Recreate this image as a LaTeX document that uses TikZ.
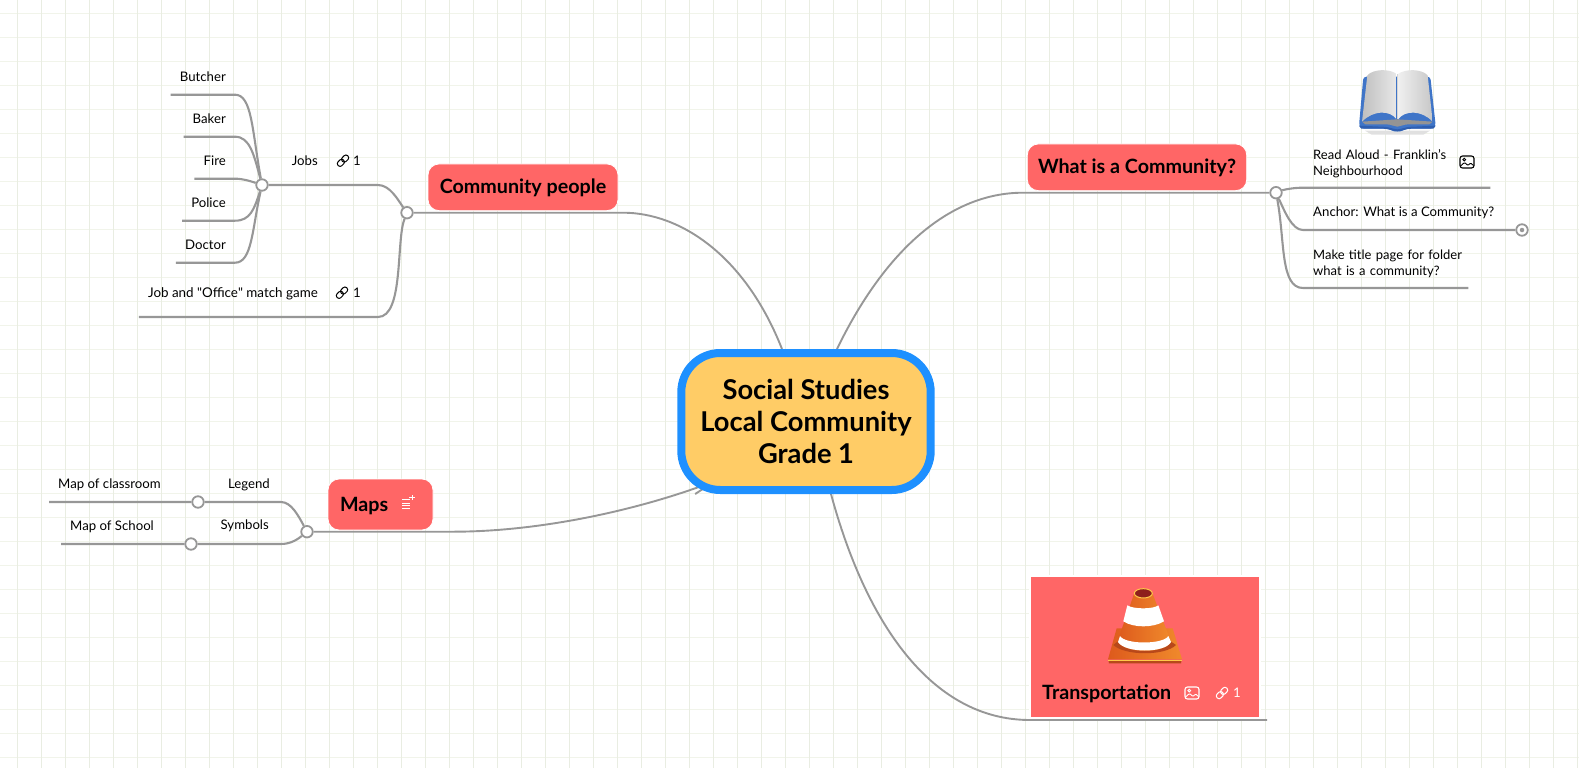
\documentclass[tikz,border=0pt]{standalone}
\usepackage{fontspec}
\setmainfont{Lato}
\newfontfamily\plainquote{Lato}
\usetikzlibrary{backgrounds}
\definecolor{gridv}{HTML}{E9EDE2}
\definecolor{gridh}{HTML}{F1F4EA}
\definecolor{branch}{HTML}{979797}
\definecolor{rootblue}{HTML}{1E90FF}
\definecolor{rootfill}{HTML}{FFCC66}
\definecolor{topicred}{HTML}{FF6666}
\definecolor{bookblue}{HTML}{3F75C8}
\definecolor{bookdark}{HTML}{2F5FB0}
\definecolor{coneA}{HTML}{DD5A1C}
\definecolor{coneB}{HTML}{F08A2C}
\definecolor{coneC}{HTML}{B8481A}
\definecolor{conerim}{HTML}{FFC84A}
\definecolor{conehole}{HTML}{8E1F1C}
\tikzset{
  root/.style={draw=rootblue,line width=8pt,fill=rootfill,rounded corners=39pt,minimum width=249.4pt,
    minimum height=137pt,align=center,font=\fontsize{27.3}{32.3}\selectfont\bfseries},
  topic/.style={draw=white,line width=.8pt,fill=topicred,rounded corners=11pt,minimum height=46.7pt,
    text height=15.2pt,text depth=3.8pt,font=\fontsize{19.7}{23}\selectfont\bfseries},
  leaf/.style={inner xsep=9pt,inner ysep=9pt,text height=9pt,text depth=4pt,
    font=\fontsize{13.2}{16}\selectfont},
  note/.style={inner xsep=5pt,inner ysep=10pt,align=left,font=\fontsize{13}{16}\selectfont},
  count/.style={inner sep=0pt,font=\fontsize{13.2}{16}\selectfont},
  hub/.style={circle,draw=branch,line width=1.8pt,fill=white,minimum size=11.5pt,inner sep=0pt},
  twig/.style={draw=branch,line width=2.1pt},
  limb/.style={draw=branch,line width=1.9pt,line join=round},
  pics/linkicon/.style={code={
    \draw[line width=1pt,rotate=45,rounded corners=2.4pt] (-6.8,-2.7) rectangle (.8,2.7);
    \draw[line width=1pt,rotate=45,rounded corners=2.4pt] (-.8,-2.7) rectangle (6.8,2.7);
  }},
  pics/imageicon/.style={code={
    \draw[line width=1.1pt,rounded corners=2.5pt] (-7,-6) rectangle (7,6);
    \draw[line width=.9pt] (-2.8,-2.4) circle (1.4);
    \draw[line width=.9pt,rounded corners=1pt] (-6.5,4) -- (-2.5,.5) -- (1,3.5) -- (3.5,1) -- (6.5,3.5);
  }},
  pics/noteicon/.style={code={
    \foreach \y in {-3.5,0,2.5,5} \draw[line width=1pt] (-6,\y) -- (2,\y);
    \draw[line width=1pt] (1,-5.5) -- (7,-5.5) (4,-8) -- (4,-3);
  }},
}
\begin{document}
\begin{tikzpicture}[x=1pt,y=-1pt]
  \useasboundingbox (0,0) rectangle (1579,768);
  \begin{scope}[on background layer]
    \foreach \y in {0,...,31} \draw[gridh,line width=1pt] (0,13.3+24*\y) -- (1579,13.3+24*\y);
    \foreach \x in {0,...,65} \draw[gridv,line width=1pt] (17.3+24*\x,0) -- (17.3+24*\x,768);
  \end{scope}

  % centre and main topics
  \node[root] (center) at (806,421.5) {Social Studies\\Local Community\\Grade 1};
  \node[topic,minimum width=190pt] (people) at (523,187.3) {Community people};
  \node[topic,minimum width=219.4pt] (what) at (1137,167.3) {What is a Community?};
  \node[topic,minimum width=105pt,minimum height=51pt,text width=81pt,inner xsep=12pt,text height=16.5pt,text depth=2.5pt] (maps) at (380.5,504.5) {Maps};
  \node[draw=white,line width=1.5pt,fill=topicred,minimum width=230pt,minimum height=142pt] (transport) at (1145,647) {};
  \node[anchor=base west,inner sep=0pt,font=\fontsize{19.7}{23}\selectfont\bfseries] (transportlabel) at (1042,699) {Transportation};
  \node[count,white] (transportcount) at (1237,693) {1};
  \coordinate (transportend) at (1267,720);
  \pic[white] at (408,503) {noteicon};
  \pic[white] at (1192,693) {imageicon};
  \pic[white] at (1222,693) {linkicon};

  % hubs
  \node[hub] (peoplehub) at (407,212.7) {};
  \node[hub] (jobshub) at (262,185) {};
  \node[hub] (whathub) at (1276,192.7) {};
  \node[hub] (mapshub) at (307,531.7) {};
  \node[hub] (legendhub) at (198,502) {};
  \node[hub] (symbolshub) at (191,544) {};
  \node[hub] (anchorend) at (1522,230) {};
  \node[circle,fill=branch,minimum size=4.5pt,inner sep=0pt] (anchordot) at (anchorend) {};

  % jobs side
  \node[leaf,anchor=south east] (butcher) at (235,94.7) {Butcher};
  \node[leaf,anchor=south east] (baker) at (235,136.7) {Baker};
  \node[leaf,anchor=south east] (fire) at (235,178.7) {Fire};
  \node[leaf,anchor=south east] (police) at (235,220.7) {Police};
  \node[leaf,anchor=south east] (doctor) at (235,262.7) {Doctor};
  \node[count,anchor=base east] (jobs) at (318,165.5) {Jobs};
  \node[count] (jobscount) at (357,160.7) {1};
  \pic at (343,160.7) {linkicon};
  \node[leaf,anchor=south east,inner ysep=15.3pt,font=\fontsize{13.4}{16}\selectfont] (jobgame) at (327,317) {Job and {\plainquote"}Office{\plainquote"} match game};
  \node[count] (gamecount) at (357,292.7) {1};
  \pic at (342,292.7) {linkicon};

  % maps side
  \node[count,anchor=base east] (legend) at (270,488.5) {Legend};
  \node[count,anchor=base east] (symbols) at (269,529.8) {Symbols};
  \node[leaf,anchor=south west] (classroom) at (49,502) {Map of classroom};
  \node[leaf,anchor=south west] (school) at (61,544) {Map of School};

  % community side
  \node[note,anchor=south west,text width=172pt] (readaloud) at (1308,187.7) {Read Aloud - Franklin's\\Neighbourhood};
  \pic at (1467,162) {imageicon};
  \node[count,anchor=base west] (anchortext) at (1313,216.5) {Anchor: What is a Community?};
  \node[note,anchor=south west,text width=150pt] (titlepage) at (1308,288) {Make title page for folder\\what is a community?};

  % book
  \begin{scope}[shift={(1340,60)},x=.3333pt,y=-.3333pt]
    \fill[black!12] (75,212) -- (270,212) -- (250,224) -- (95,224) -- cycle;
    \fill[bookblue,rounded corners=3pt] (70,50) -- (57,197) -- (64,206) -- (125,206)
      .. controls (150,206) and (158,214) .. (172,214) .. controls (186,214) and (194,206) .. (219,206)
      -- (280,206) -- (287,197) -- (271,50) -- cycle;
    \fill[bookdark] (57,197) -- (64,206) -- (125,206) .. controls (150,206) and (158,214) .. (172,214)
      .. controls (186,214) and (194,206) .. (219,206) -- (280,206) -- (287,197) -- (219,200)
      .. controls (194,200) and (186,208) .. (172,208) .. controls (158,208) and (150,200) .. (125,200) -- cycle;
    \fill[black!42] (66,185) -- (172,178) -- (278,185) -- (268,193) -- (205,193)
      .. controls (190,193) and (182,200) .. (172,200) .. controls (162,200) and (154,193) .. (139,193) -- (76,193) -- cycle;
    \shade[left color=black!25,middle color=black!5,right color=black!9] (82,46) .. controls (100,26) and (150,26) .. (170,42)
      -- (170,178) .. controls (150,150) and (100,150) .. (66,185) -- cycle;
    \shade[left color=black!6,middle color=black!4,right color=black!22] (174,42) .. controls (195,26) and (245,26) .. (263,46)
      -- (278,185) .. controls (245,150) and (195,150) .. (174,178) -- cycle;
    \fill[black!16] (170,42) rectangle (174,178);
  \end{scope}

  % cone
  \begin{scope}[shift={(1090,580)},x=.3333pt,y=-.3333pt]
    \fill[coneC] (55,240) -- (275,240) -- (273,250) -- (57,250) -- cycle;
    \shade[left color=coneA,right color=coneB] (80,145) -- (248,145) -- (276,238) -- (54,238) -- cycle;
    \fill[coneC] (70,195) .. controls (105,228) and (225,228) .. (258,195) -- (243,185) -- (82,185) -- cycle;
    \draw[conerim,line width=1.2pt] (55,241) -- (275,241);
    \shade[left color=coneA,right color=coneB] (132,42) -- (188,42) -- (243,185)
      .. controls (225,222) and (105,222) .. (82,185) -- cycle;
    \fill[white] (112,76) .. controls (130,88) and (190,88) .. (205,76) -- (222,124)
      .. controls (190,144) and (130,144) .. (100,124) -- cycle;
    \fill[white] (90,168) .. controls (105,194) and (220,194) .. (235,168) -- (243,186)
      .. controls (225,220) and (105,220) .. (84,186) -- cycle;
    \draw[conerim,line width=1pt,fill=conehole] (160,40) ellipse (27 and 14);
  \end{scope}

  % connectors
  \begin{scope}[on background layer]
    \draw[limb] (center) -- (782,349) .. controls (745,255) and (680,212.7) .. (623,212.7) -- (peoplehub);
    \draw[limb] (center) -- (837,349) .. controls (885,250) and (950,192.7) .. (1023,192.7) -- (whathub);
    \draw[limb] (center) -- (715,481) .. controls (640,510) and (540,531.7) .. (453,531.7) -- (mapshub);
    \draw[limb] (center) -- (831,494) .. controls (865,620) and (930,720) .. (1030,720) -- (transportend);
    \draw[twig] (peoplehub) .. controls (398,200) and (390,185) .. (378,185) -- (jobshub);
    \draw[twig] (peoplehub) .. controls (396,240) and (404,317) .. (378,317) -- (jobgame.south west);
    \foreach \leafname/\ax/\ay/\bx/\by in {butcher/252/130/252/94.7, baker/254/155/250/136.7, fire/250/181/243/178.7,
        police/254/210/250/220.7, doctor/252/230/252/262.7}
      \draw[twig] (jobshub) .. controls (\ax,\ay) and (\bx,\by) .. (\leafname.south east) -- (\leafname.south west);
    \draw[twig] (mapshub) .. controls (298,515) and (291,502) .. (281,502) -- (legendhub) -- (classroom.south west);
    \draw[twig] (mapshub) .. controls (298,539) and (291,544) .. (281,544) -- (symbolshub) -- (school.south west);
    \draw[twig] (whathub) .. controls (1283,190) and (1292,187.7) .. (1303,187.7) -- (readaloud.south east);
    \draw[twig] (whathub) .. controls (1285,212) and (1292,230) .. (1303,230) -- (anchorend);
    \draw[twig] (whathub) .. controls (1285,240) and (1280,288) .. (1303,288) -- (titlepage.south east);
  \end{scope}
\end{tikzpicture}
\end{document}
